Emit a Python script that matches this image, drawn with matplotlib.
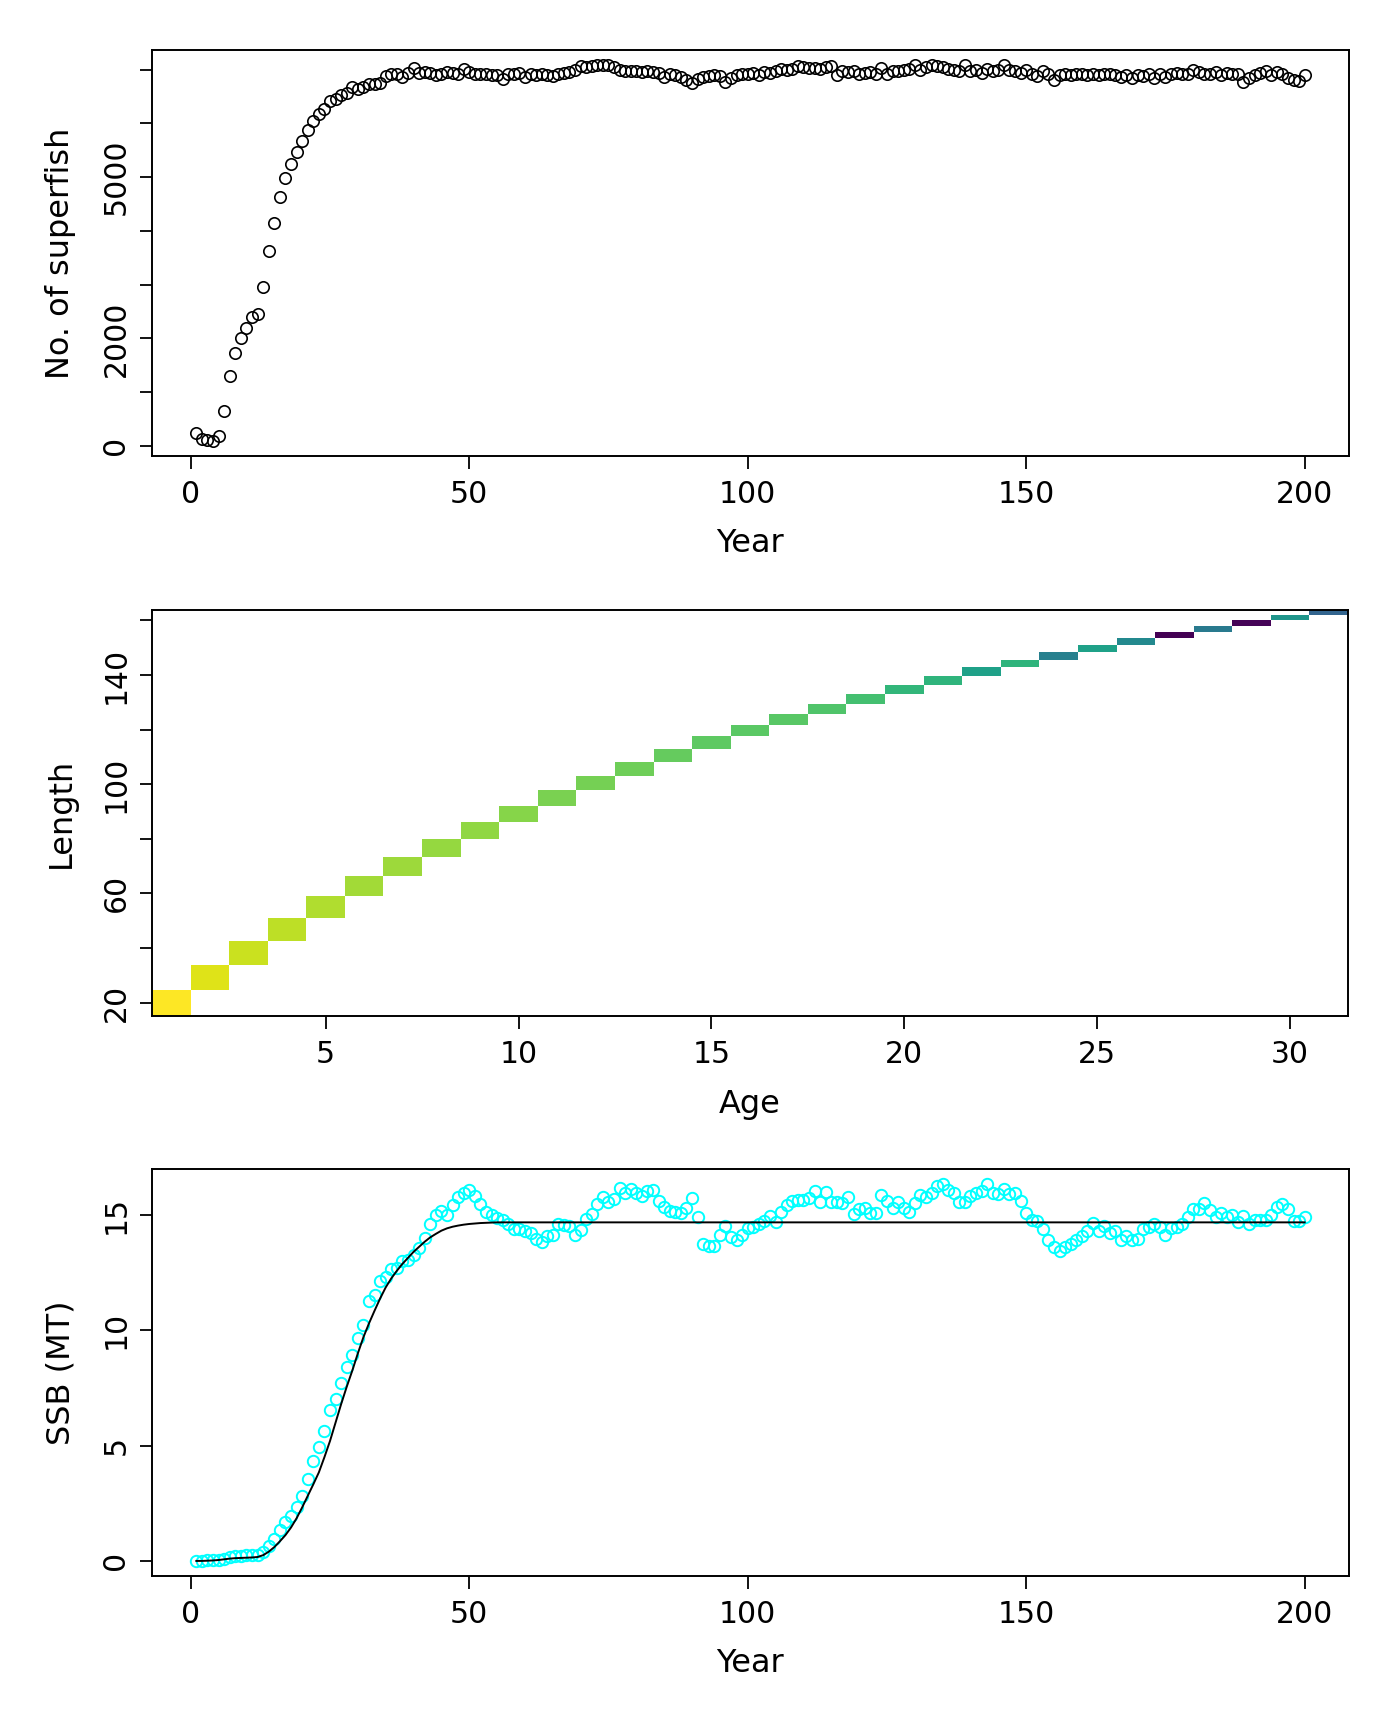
import numpy as np
import matplotlib
matplotlib.use("Agg")
import matplotlib.pyplot as plt

plt.rcParams['font.family'] = ['DejaVu Sans']

# ---------------- data ----------------
years = list(range(1, 201))

superfish = [240, 130, 100, 90, 190, 640, 1290, 1720, 2010, 2200,
             2400, 2460, 2950, 3620, 4150, 4630, 4990, 5240, 5470, 5680,
             5870, 6040, 6170, 6270, 6420, 6460, 6520, 6570, 6670, 6630,
             6680, 6730, 6740, 6750, 6880, 6910, 6910, 6870, 6930, 7030,
             6930, 6950, 6940, 6900, 6910, 6950, 6930, 6910, 7020, 6950,
             6927, 6915, 6927, 6908, 6896, 6834, 6915, 6927, 6939, 6865,
             6915, 6896, 6915, 6896, 6884, 6915, 6939, 6958, 6989, 7063,
             7051, 7063, 7082, 7085, 7082, 7051, 6989, 6977, 6977, 6977,
             6958, 6977, 6958, 6939, 6865, 6915, 6896, 6865, 6815, 6760,
             6834, 6865, 6877, 6896, 6877, 6772, 6853, 6896, 6927, 6915,
             6939, 6896, 6958, 6939, 6977, 7020, 6989, 7020, 7063, 7051,
             7039, 7039, 7020, 7051, 7063, 6896, 6977, 6958, 6977, 6915,
             6939, 6958, 6927, 7039, 6927, 6970, 6977, 7001, 7020, 7082,
             6989, 7051, 7082, 7063, 7051, 7020, 6989, 6977, 7082, 6977,
             7001, 6939, 7020, 6977, 7001, 7082, 7001, 6977, 6939, 6989,
             6915, 6877, 6977, 6915, 6803, 6896, 6927, 6896, 6915, 6927,
             6896, 6927, 6896, 6915, 6927, 6896, 6865, 6896, 6853, 6896,
             6877, 6927, 6853, 6915, 6865, 6915, 6939, 6915, 6927, 7001,
             6958, 6915, 6927, 6958, 6896, 6939, 6927, 6915, 6772, 6853,
             6896, 6939, 6977, 6896, 6958, 6915, 6853, 6815, 6791, 6896]

ages = list(range(1, 32))
# length-bin boundaries of the image cells (one cell per age)
length_edges = [15.1, 24.5, 33.9, 42.7, 50.9, 58.9, 66.2, 73.2, 80.0, 86.3,
                92.1, 97.7, 103.1, 108.1, 112.9, 117.5, 121.6, 125.7, 129.4, 133.1,
                136.5, 139.7, 142.8, 145.6, 148.4, 151.1, 153.4, 155.8, 158.0, 160.0,
                162.1, 163.8]
# colour value of each age cell (viridis scale, 0..1)
cell_value = [1.00, 0.95, 0.92, 0.90, 0.88, 0.86, 0.855, 0.84, 0.835, 0.82,
              0.80, 0.79, 0.78, 0.765, 0.75, 0.745, 0.74, 0.725, 0.70, 0.66,
              0.65, 0.57, 0.65, 0.43, 0.57, 0.47, 0.00, 0.41, 0.01, 0.52,
              0.32]

ssb_points = [0.0, 0.01, 0.02, 0.03, 0.05, 0.1, 0.16, 0.2, 0.23, 0.27,
              0.27, 0.25, 0.37, 0.63, 0.95, 1.36, 1.69, 1.96, 2.35, 2.83,
              3.54, 4.35, 4.95, 5.62, 6.55, 7.0, 7.72, 8.39, 8.93, 9.65,
              10.23, 11.25, 11.54, 12.15, 12.3, 12.66, 12.7, 12.99, 13.05, 13.28,
              13.57, 13.99, 14.6, 15.01, 15.18, 15.01, 15.43, 15.79, 15.94, 16.08,
              15.81, 15.47, 15.14, 15.0, 14.87, 14.78, 14.63, 14.39, 14.39, 14.32,
              14.2, 13.96, 13.81, 14.1, 14.13, 14.63, 14.57, 14.53, 14.14, 14.35,
              14.82, 15.04, 15.47, 15.76, 15.55, 15.69, 16.17, 15.94, 16.12, 15.94,
              15.83, 16.02, 16.08, 15.62, 15.33, 15.18, 15.11, 15.07, 15.3, 15.73,
              14.92, 13.74, 13.67, 13.64, 14.14, 14.53, 14.03, 13.93, 14.14, 14.42,
              14.46, 14.61, 14.75, 14.97, 14.68, 15.11, 15.43, 15.59, 15.65, 15.65,
              15.73, 16.02, 15.55, 15.98, 15.58, 15.55, 15.5, 15.76, 15.04, 15.27,
              15.32, 15.09, 15.09, 15.88, 15.62, 15.3, 15.55, 15.3, 15.11, 15.52,
              15.88, 15.76, 15.94, 16.27, 16.34, 16.08, 15.96, 15.55, 15.55, 15.84,
              15.94, 16.05, 16.34, 15.94, 15.9, 16.12, 15.9, 15.94, 15.59, 15.07,
              14.78, 14.72, 14.39, 13.93, 13.63, 13.45, 13.63, 13.74, 13.92, 14.1,
              14.32, 14.64, 14.32, 14.53, 14.24, 14.32, 13.92, 14.09, 13.9, 13.97,
              14.39, 14.49, 14.61, 14.49, 14.14, 14.43, 14.46, 14.61, 14.9, 15.26,
              15.26, 15.5, 15.21, 14.93, 15.07, 14.93, 15.01, 14.68, 14.97, 14.61,
              14.78, 14.78, 14.78, 15.01, 15.36, 15.47, 15.26, 14.72, 14.72, 14.9]

ssb_line_years = list(range(1, 56)) + [200]
ssb_line = [0.0, 0.0, 0.01, 0.02, 0.04, 0.07, 0.1, 0.12, 0.13, 0.14,
            0.15, 0.17, 0.25, 0.4, 0.6, 0.85, 1.12, 1.45, 1.85, 2.32,
            2.82, 3.32, 3.84, 4.5, 5.2, 6.0, 6.8, 7.55, 8.25, 9.0,
            9.7, 10.3, 10.85, 11.38, 11.86, 12.25, 12.58, 12.88, 13.14, 13.4,
            13.62, 13.84, 14.03, 14.18, 14.32, 14.42, 14.49, 14.54, 14.58, 14.61,
            14.63, 14.65, 14.66, 14.67, 14.68, 14.68]

year_ticks = [0, 50, 100, 150, 200]
sf_ticks = [0, 1000, 2000, 3000, 4000, 5000, 6000, 7000]
sf_ticklabels = ['0', '', '2000', '', '', '5000', '', '']
age_ticks = [5, 10, 15, 20, 25, 30]
len_ticks = [20, 40, 60, 80, 100, 120, 140, 160]
len_ticklabels = ['20', '', '60', '', '100', '', '140', '']
ssb_ticks = [0, 5, 10, 15]

# ---------------- style ----------------
FS = 21.5
FS_LAB = 23
W, H = 1400, 1728
fig = plt.figure(figsize=(W / 100, H / 100), dpi=100)

def axes_px(left, right, top, bottom):
    return fig.add_axes([left / W, 1 - bottom / H, (right - left) / W, (bottom - top) / H])

def r_range(vals):
    lo, hi = min(vals), max(vals)
    d = (hi - lo) * 0.04
    return lo - d, hi + d

def style(ax, xlabel, ylabel, top, bottom, left=152, right=1349):
    for s in ax.spines.values():
        s.set_linewidth(1.4)
    ax.tick_params(axis='both', direction='out', length=9, width=1.3, labelsize=FS)
    ax.tick_params(axis='x', pad=8)
    ax.tick_params(axis='y', pad=6.5)
    for lab in ax.get_yticklabels():
        lab.set_rotation(90)
        lab.set_va('center')
    ax.set_xlabel(xlabel, fontsize=FS_LAB, va='center')
    ax.set_ylabel(ylabel, fontsize=FS_LAB, va='center')
    h = bottom - top
    w = right - left
    ax.xaxis.set_label_coords(0.5, -(544 - 456) / h)
    ax.yaxis.set_label_coords(-(152 - 61) / w, 0.5)

MS = 8.2

# ---------------- panel 1 ----------------
ax1 = axes_px(152, 1349, 50, 456)
ax1.plot(years, superfish, linestyle='none', marker='o', markersize=MS,
         markerfacecolor='none', markeredgecolor='black', markeredgewidth=1.2)
ax1.set_xlim(r_range(years))
ax1.set_ylim(r_range(superfish))
ax1.set_xticks(year_ticks)
ax1.set_yticks(sf_ticks)
ax1.set_yticklabels(sf_ticklabels)
style(ax1, 'Year', 'No. of superfish', 50, 456)

# ---------------- panel 2 ----------------
ax2 = axes_px(152, 1348, 610, 1016)
n = len(ages)
x_edges = np.concatenate([np.array(ages) - 0.5, [ages[-1] + 0.5]])
Z = np.full((n, n), np.nan)
for i in range(n):
    Z[i, i] = cell_value[i]
Z = np.ma.masked_invalid(Z)
ax2.pcolormesh(x_edges, length_edges, Z, cmap='viridis', vmin=0, vmax=1,
               shading='flat', edgecolors='none', antialiased=False)
ax2.set_xlim(x_edges[0], x_edges[-1])
ax2.set_ylim(length_edges[0], length_edges[-1])
ax2.set_xticks(age_ticks)
ax2.set_yticks(len_ticks)
ax2.set_yticklabels(len_ticklabels)
style(ax2, 'Age', 'Length', 610, 1016, 152, 1348)

# ---------------- panel 3 ----------------
ax3 = axes_px(152, 1349, 1169, 1576)
ax3.plot(years, ssb_points, linestyle='none', marker='o', markersize=MS,
         markerfacecolor='none', markeredgecolor='#00FFFF', markeredgewidth=1.4)
ax3.plot(ssb_line_years, ssb_line, color='black', linewidth=1.4)
ax3.set_xlim(r_range(years))
ax3.set_ylim(r_range(ssb_points))
ax3.set_xticks(year_ticks)
ax3.set_yticks(ssb_ticks)
style(ax3, 'Year', 'SSB (MT)', 1169, 1576)

fig.savefig('out.png', dpi=100, facecolor='white')
